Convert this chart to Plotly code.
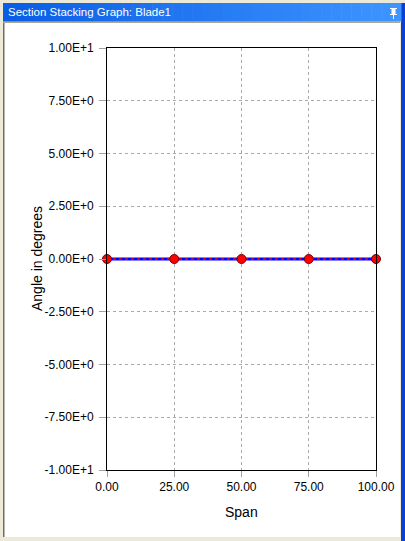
import plotly.graph_objects as go

W, H = 405, 541

# ---- data ----
span = [0, 25, 50, 75, 100]
angle = [0, 0, 0, 0, 0]
y_ticks = [-10, -7.5, -5, -2.5, 0, 2.5, 5, 7.5, 10]
y_tick_text = ["-1.00E+1", "-7.50E+0", "-5.00E+0", "-2.50E+0", "0.00E+0",
               "2.50E+0", "5.00E+0", "7.50E+0", "1.00E+1"]
x_ticks = [0, 25, 50, 75, 100]
x_tick_text = ["0.00", "25.00", "50.00", "75.00", "100.00"]

FONT = "Liberation Sans"

def px(x):
    return x / W

def py(y):
    return 1 - y / H

fig = go.Figure()

fig.add_trace(go.Scatter(x=span, y=angle, mode="lines",
                         line=dict(color="#0000FF", width=3), hoverinfo="skip"))
fig.add_trace(go.Scatter(x=span, y=angle, mode="lines+markers",
                         line=dict(color="#FF0000", width=1.5, dash="3px,3px"),
                         marker=dict(symbol="circle", size=9, color="#FF0000",
                                     line=dict(color="#7A0000", width=1)),
                         cliponaxis=False))

shapes = []
shapes.append(dict(type="rect", xref="paper", yref="paper", x0=0, x1=1, y0=0, y1=1,
                   fillcolor="#ECE9D8", line=dict(width=0), layer="below"))
shapes.append(dict(type="rect", xref="paper", yref="paper", x0=px(4), x1=px(400),
                   y0=py(537), y1=py(22), fillcolor="#FFFFFF", line=dict(width=0), layer="below"))
shapes.append(dict(type="rect", xref="paper", yref="paper", x0=px(3), x1=px(4.5),
                   y0=py(537), y1=py(22), fillcolor="#716F64", line=dict(width=0), layer="below"))
shapes.append(dict(type="rect", xref="paper", yref="paper", x0=px(3), x1=px(400),
                   y0=py(23), y1=py(21.5), fillcolor="#ACA899", line=dict(width=0), layer="below"))
shapes.append(dict(type="rect", xref="paper", yref="paper", x0=px(401), x1=1,
                   y0=0, y1=py(3), fillcolor="#0B3FD6", line=dict(width=0), layer="below"))
n = 40
c0 = (10, 94, 230)
c1 = (62, 149, 255)
for i in range(n):
    t = i / (n - 1)
    c = tuple(int(c0[k] + (c1[k] - c0[k]) * t) for k in range(3))
    x0 = 3 + (398 / n) * i
    x1 = 3 + (398 / n) * (i + 1) + 0.5
    shapes.append(dict(type="rect", xref="paper", yref="paper", x0=px(x0), x1=px(x1),
                       y0=py(21.5), y1=py(3), fillcolor="rgb(%d,%d,%d)" % c,
                       line=dict(width=0), layer="below"))
# pin icon
shapes.append(dict(type="rect", xref="paper", yref="paper", x0=px(390), x1=px(397),
                   y0=py(9), y1=py(8), fillcolor="white", line=dict(width=0)))
shapes.append(dict(type="rect", xref="paper", yref="paper", x0=px(391.5), x1=px(395.5),
                   y0=py(14), y1=py(9), fillcolor="white", line=dict(width=0)))
shapes.append(dict(type="rect", xref="paper", yref="paper", x0=px(390), x1=px(397),
                   y0=py(15), y1=py(14), fillcolor="white", line=dict(width=0)))
shapes.append(dict(type="rect", xref="paper", yref="paper", x0=px(393), x1=px(394),
                   y0=py(19), y1=py(15), fillcolor="white", line=dict(width=0)))

fig.update_layout(
    width=W, height=H,
    margin=dict(l=0, r=0, t=0, b=0, autoexpand=False),
    paper_bgcolor="#ECE9D8",
    plot_bgcolor="#FFFFFF",
    showlegend=False,
    shapes=shapes,
    font=dict(family=FONT, size=12, color="#000000"),
    annotations=[
        dict(text="Section Stacking Graph: Blade1", xref="paper", yref="paper",
             x=px(6), y=py(12.5), xanchor="left", yanchor="middle", showarrow=False,
             font=dict(family=FONT, size=11.5, color="white")),
        dict(text="Angle in degrees", xref="paper", yref="paper",
             x=px(37), y=py(259), xanchor="center", yanchor="middle", showarrow=False,
             textangle=-90, font=dict(family=FONT, size=14, color="#000000")),
        dict(text="Span", xref="paper", yref="paper",
             x=px(241), y=py(512), xanchor="center", yanchor="middle", showarrow=False,
             font=dict(family=FONT, size=14, color="#000000")),
    ],
    xaxis=dict(
        domain=[px(107), px(376)],
        range=[0, 100],
        automargin=False,
        tickvals=x_ticks, ticktext=x_tick_text,
        ticks="outside", ticklen=6, tickcolor="#A0A0A0",
        showline=True, linecolor="#000000", linewidth=1, mirror=True,
        showgrid=True, gridcolor="#AAAAAA", griddash="3px,3px", gridwidth=1,
        zeroline=False,
        tickfont=dict(family=FONT, size=12),
    ),
    yaxis=dict(
        domain=[py(470), py(48)],
        range=[-10, 10],
        automargin=False,
        tickvals=y_ticks, ticktext=y_tick_text,
        ticks="outside", ticklen=7, tickcolor="#A0A0A0",
        ticklabelstandoff=3,
        showline=True, linecolor="#000000", linewidth=1, mirror=True,
        showgrid=True, gridcolor="#AAAAAA", griddash="3px,3px", gridwidth=1,
        zeroline=False,
        tickfont=dict(family=FONT, size=12),
    ),
)

fig.write_html("out.html", config={"displayModeBar": False},
               post_script="document.body.style.margin='0';document.body.style.overflow='hidden';")
